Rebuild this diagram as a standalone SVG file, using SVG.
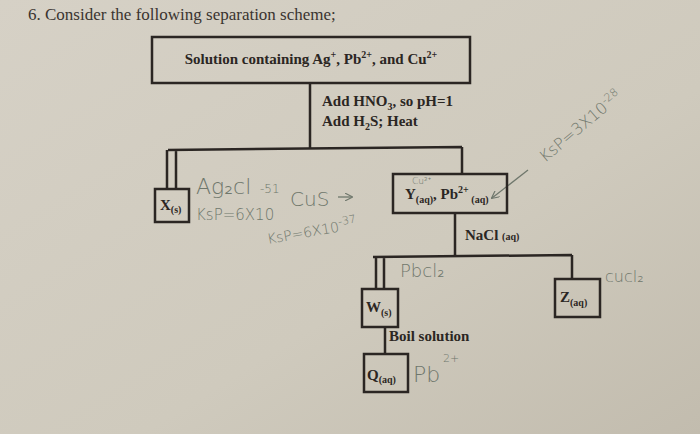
<svg xmlns="http://www.w3.org/2000/svg" width="700" height="434" viewBox="0 0 700 434">
<defs>
<linearGradient id="bg" x1="0" y1="0" x2="1" y2="1">
<stop offset="0" stop-color="#d6d1c6"/><stop offset="0.6" stop-color="#cfcabd"/><stop offset="1" stop-color="#c2bcae"/>
</linearGradient>
<marker id="ah" viewBox="0 0 10 10" refX="9" refY="5" markerWidth="6" markerHeight="6" orient="auto"><path d="M0,0 L10,5 L0,10" fill="none" stroke="#6f776c" stroke-width="1.5"/></marker>
</defs>
<style>
.bx{fill:none;stroke:#2b2623;stroke-width:2.5}
.ln{fill:none;stroke:#2b2623;stroke-width:2.5}
.t{font-family:"Liberation Serif",serif;fill:#2b2623;font-weight:bold;font-size:15px}
.s{font-size:10px}
.h{font-family:"DejaVu Sans",sans-serif;fill:#6f776c;font-weight:300}
.hl{fill:none;stroke:#6f776c;stroke-width:1.3}
</style>
<rect width="700" height="434" fill="url(#bg)"/>
<text x="28" y="20" font-family="Liberation Serif,serif" font-size="17" fill="#3a3430">6. Consider the following separation scheme;</text>
<g id="connectors">
<path class="ln" d="M310,83 V149 M168,150 L462,147 M167,150 V189 M176,150 V189 M462,147 V174 M455,213 V256 M373,257 L572,255 M376,257 V289 M384,257 V289 M572,255 V279 M385,327 V354"/>
<path class="hl" d="M338,197 L352,197" marker-end="url(#ah)"/>
<path class="hl" d="M528,170 L492,198" marker-end="url(#ah)"/>
</g>
<g id="top"><rect class="bx" x="152" y="37" width="318" height="46"/>
<text class="t" x="311" y="64" text-anchor="middle">Solution containing Ag<tspan class="s" dy="-6">+</tspan><tspan dy="6">, Pb</tspan><tspan class="s" dy="-6">2+</tspan><tspan dy="6">, and Cu</tspan><tspan class="s" dy="-6">2+</tspan></text></g>
<g id="step1"><text class="t" x="322" y="106">Add HNO<tspan class="s" dy="4">3</tspan><tspan dy="-4">, so pH=1</tspan></text>
<text class="t" x="322" y="126">Add H<tspan class="s" dy="4">2</tspan><tspan dy="-4">S; Heat</tspan></text></g>
<g id="X"><rect class="bx" x="155" y="189" width="34" height="33"/><text class="t" x="160" y="210">X<tspan class="s" dy="3">(s)</tspan></text></g>
<g id="Y"><rect class="bx" x="393" y="174" width="114" height="39"/><text class="t" x="405" y="199">Y<tspan class="s" dy="4">(aq)</tspan><tspan dy="-4">, Pb</tspan><tspan class="s" dy="-6">2+</tspan><tspan class="s" dy="10"> (aq)</tspan></text></g>
<text class="t" x="465" y="240">NaCl <tspan class="s">(aq)</tspan></text>
<g id="W"><rect class="bx" x="362" y="289" width="36" height="38"/><text class="t" x="366" y="312">W<tspan class="s" dy="4">(s)</tspan></text></g>
<g id="Z"><rect class="bx" x="555" y="279" width="45" height="38"/><text class="t" x="560" y="302">Z<tspan class="s" dy="4">(aq)</tspan></text></g>
<text class="t" x="389" y="341">Boil solution</text>
<g id="Q"><rect class="bx" x="364" y="354" width="44" height="38"/><text class="t" x="367" y="380">Q<tspan class="s" dy="3">(aq)</tspan></text></g>
<g id="notes">
<text class="h" x="196" y="194" font-size="22">Ag₂cl</text>
<text class="h" x="196" y="220" font-size="15">KsP=6X10</text>
<text class="h" x="260" y="193" font-size="12">-51</text>
<text class="h" x="290" y="206" font-size="20">CuS</text>
<text class="h" x="268" y="244" font-size="14" transform="rotate(-10 268 244)">KsP=6X10<tspan font-size="11" dy="-6">-37</tspan></text>
<text class="h" x="412" y="184" font-size="9">Cu²⁺</text>
<text class="h" x="545" y="163" font-size="16" transform="rotate(-40 545 163)">KsP=3X10<tspan font-size="11" dy="-6">-28</tspan></text>
<text class="h" x="400" y="277" font-size="18">Pbcl₂</text>
<text class="h" x="605" y="282" font-size="16">cucl₂</text>
<text class="h" x="413" y="382" font-size="22">Pb</text>
<text class="h" x="443" y="362" font-size="11">2+</text>
</g>
</svg>
